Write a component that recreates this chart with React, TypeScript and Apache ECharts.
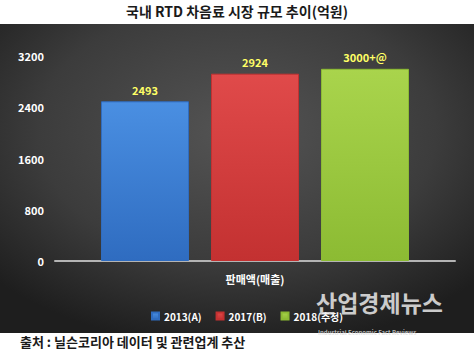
import React, { useEffect, useRef } from "react";
import * as echarts from "echarts";

const categories = ["판매액(매출)"];
const seriesNames = ["2013(A)", "2017(B)", "2018(추정)"];
const seriesValues = [2493, 2924, 3000];
const valueLabels = ["2493", "2924", "3000+@"];
const yTicks = [0, 800, 1600, 2400, 3200];
const title = "국내 RTD 차음료 시장 규모 추이(억원)";
const source = "출처 : 닐슨코리아 데이터 및 관련업계 추산";

const barColors = [
  ["#4a8fe2", "#2f6cc0"],
  ["#e04a4a", "#c33131"],
  ["#a9d44c", "#8cbb33"],
];

const FONT = "'Noto Sans CJK KR', 'Noto Sans', sans-serif";

export default function App() {
  const ref = useRef<HTMLDivElement>(null);
  useEffect(() => {
    document.body.style.margin = "0";
    const chart = echarts.init(ref.current!, null, { renderer: "svg" });
    chart.setOption({
      animation: false,
      backgroundColor: "#ffffff",
      graphic: [
        {
          type: "rect",
          z: -10,
          shape: { x: 0, y: 24, width: 474, height: 309 },
          style: {
            fill: new echarts.graphic.RadialGradient(0.5, 0.35, 0.7, [
              { offset: 0, color: "#545454" },
              { offset: 0.6, color: "#3c3c3c" },
              { offset: 1, color: "#1e1e1e" },
            ]),
          },
        },
        {
          type: "text",
          left: "center",
          top: 4,
          style: { text: title, fill: "#1a1a1a", font: `bold 14px ${FONT}` },
        },
        {
          type: "text",
          left: 20,
          top: 335,
          style: { text: source, fill: "#1a1a1a", font: `bold 13px ${FONT}` },
        },
        {
          type: "text",
          left: 316,
          top: 290,
          z: 100,
          style: {
            text: "산업경제뉴스",
            fill: "rgba(235,235,235,0.85)",
            font: `bold 23px ${FONT}`,
          },
        },
        {
          type: "text",
          left: 318,
          top: 329,
          z: 100,
          style: {
            text: "Industrial Economic Fact Reviews",
            fill: "rgba(220,220,220,0.8)",
            font: `bold 6px ${FONT}`,
          },
        },
      ],
      grid: { left: 55, right: 19, top: 56, bottom: 93 },
      legend: {
        data: seriesNames,
        bottom: 28,
        left: 146,
        itemWidth: 7,
        itemHeight: 7,
        itemGap: 14,
        icon: "rect",
        textStyle: { color: "#ffffff", fontSize: 10, fontWeight: "bold", fontFamily: FONT },
      },
      xAxis: {
        type: "category",
        data: categories,
        axisLine: { lineStyle: { color: "#b4b4b4", width: 2 } },
        axisTick: { show: false },
        axisLabel: {
          color: "#ffffff",
          fontSize: 11,
          fontWeight: "bold",
          fontFamily: FONT,
          margin: 12,
        },
      },
      yAxis: {
        type: "value",
        min: yTicks[0],
        max: yTicks[yTicks.length - 1],
        interval: 800,
        axisLine: { show: false },
        axisTick: { show: false },
        splitLine: { show: false },
        axisLabel: {
          color: "#ffffff",
          fontSize: 11,
          fontWeight: "bold",
          fontFamily: FONT,
          margin: 11,
          formatter: (v: number) => String(v),
        },
      },
      series: seriesNames.map((name, i) => ({
        name,
        type: "bar",
        data: [seriesValues[i]],
        barWidth: 88,
        barGap: "25%",
        itemStyle: {
          color: new echarts.graphic.LinearGradient(0, 0, 0, 1, [
            { offset: 0, color: barColors[i][0] },
            { offset: 1, color: barColors[i][1] },
          ]),
          borderColor: barColors[i][1],
          borderWidth: 1,
        },
        label: {
          show: true,
          position: "top",
          distance: 6,
          formatter: () => valueLabels[i],
          color: "#ffff66",
          fontSize: 11,
          fontWeight: "bold",
          fontFamily: FONT,
        },
      })),
    });
    return () => chart.dispose();
  }, []);
  return <div ref={ref} style={{ width: 474, height: 354 }} />;
}
